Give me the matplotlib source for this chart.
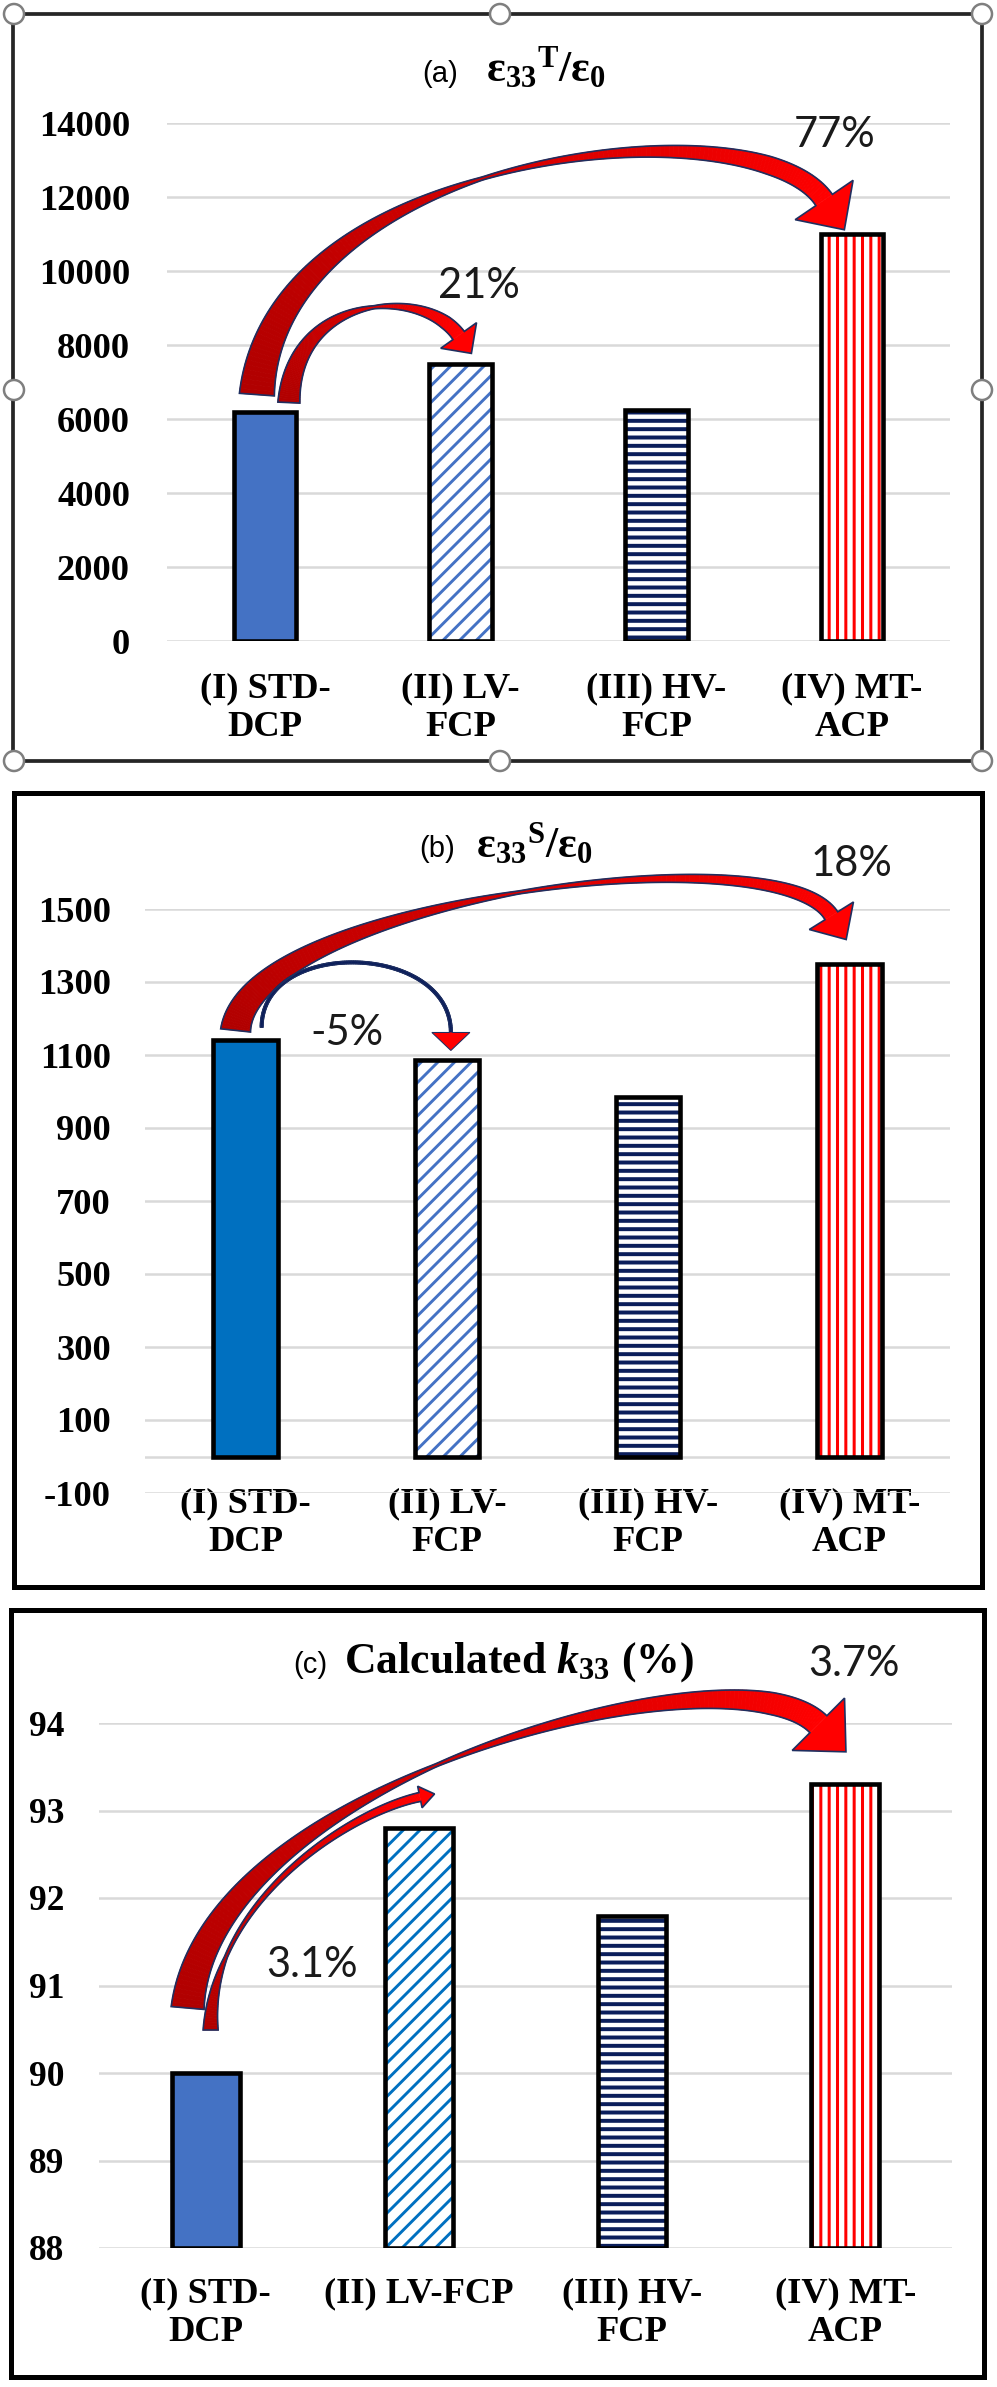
import numpy as np
import matplotlib
matplotlib.use("Agg")
import matplotlib.pyplot as plt
from matplotlib.patches import Polygon, Rectangle, Ellipse
from matplotlib.collections import PolyCollection
from matplotlib.colors import to_rgb

# ---- data ----
labels_ab = ['(I) STD-\nDCP', '(II) LV-\nFCP', '(III) HV-\nFCP', '(IV) MT-\nACP']
labels_c = ['(I) STD-\nDCP', '(II) LV-FCP', '(III) HV-\nFCP', '(IV) MT-\nACP']
eps_T = [6200, 7500, 6250, 11000]      # (a) eps33T/eps0
eps_S = [1140, 1085, 985, 1350]        # (b) eps33S/eps0
k33 = [90.0, 92.8, 91.8, 93.3]         # (c) calculated k33 (%)
ticks_a = list(range(0, 14001, 2000))
ticks_b = list(range(-100, 1501, 200))
ticks_c = [88, 89, 90, 91, 92, 93, 94]
pct_a = ['21%', '77%']
pct_b = ['-5%', '18%']
pct_c = ['3.1%', '3.7%']

BLUE = '#4472C4'
BLUE2 = '#0070C0'
NAVY = '#0B1E5B'
RED = '#FF0000'

plt.rcParams.update({
    'font.family': 'Liberation Serif',
    'font.weight': 'bold',
    'mathtext.fontset': 'custom',
    'mathtext.rm': 'Liberation Serif:bold',
    'mathtext.it': 'Liberation Serif:italic:bold',
    'mathtext.bf': 'Liberation Serif:bold',
    'mathtext.default': 'rm',
    'hatch.linewidth': 1.5,
})

W, H, DPI = 997, 2387, 150
fig = plt.figure(figsize=(W / DPI, H / DPI), dpi=DPI)
fig.patch.set_facecolor('white')


def fx(x):
    return x / W


def fy(y):
    return 1 - y / H


def pt(px):
    return px * 72 / DPI


def panel_axes(left, right, top, bottom, ylim, ticks, labels, ypad, xpad, ysize):
    ax = fig.add_axes([fx(left), fy(bottom), (right - left) / W, (bottom - top) / H])
    ax.set_xlim(-0.5, 3.5)
    ax.set_ylim(*ylim)
    ax.set_yticks(ticks)
    ax.set_yticklabels([str(t) for t in ticks], fontsize=ysize, fontweight='bold')
    ax.set_xticks(range(len(labels)))
    ax.set_xticklabels(labels, fontsize=17.5, fontweight='bold', linespacing=1.25)
    ax.tick_params(axis='y', length=0, pad=pt(ypad))
    ax.tick_params(axis='x', length=0, pad=pt(xpad))
    ax.grid(axis='y', color='#D9D9D9', lw=1.2)
    ax.set_axisbelow(True)
    for s in ax.spines.values():
        s.set_visible(False)
    ax.patch.set_alpha(0)
    return ax


def draw_bars(ax, values, base, solid, diag, width=0.32):
    x = np.arange(len(values))
    h = np.array(values, dtype=float) - base
    fills = [solid, 'white', 'white', 'white']
    hcols = [solid, diag, NAVY, RED]
    hatches = [None, '///', '---', '|||']
    hlw = [1.5, 1.4, 1.9, 1.45]
    for i in range(len(values)):
        plt.rcParams['hatch.linewidth'] = hlw[i]
        bars = ax.bar(x[i], h[i], width, bottom=base, color=fills[i],
                      edgecolor=hcols[i], hatch=hatches[i], lw=0, zorder=2)
        for b in bars:
            if hasattr(b, 'set_hatch_linewidth'):
                b.set_hatch_linewidth(hlw[i])
        ax.bar(x[i], h[i], width, bottom=base, fill=False,
               edgecolor='black', lw=2.2, zorder=3)
    plt.rcParams['hatch.linewidth'] = 1.5


def img_pt(ax, xy):
    d = ax.transData.transform(xy)
    return np.array([d[0], H - d[1]])


def to_fig(a):
    a = np.asarray(a)
    return np.column_stack([a[:, 0] / W, 1 - a[:, 1] / H])


def curved_arrow(ax, start, s_off, c1, end, e_off, c2, wprof, head_len, head_w,
                 col0='#B00000', col1=RED, head_col=None, edge='#1F2F60', elw=0.8):
    P0 = img_pt(ax, start) + np.array(s_off)
    P3 = img_pt(ax, end) + np.array(e_off)
    P1 = P0 + np.array(c1)
    P2 = P3 + np.array(c2)
    t = np.linspace(0, 1, 160)[:, None]
    pts = (1 - t) ** 3 * P0 + 3 * (1 - t) ** 2 * t * P1 + 3 * (1 - t) * t ** 2 * P2 + t ** 3 * P3
    der = 3 * (1 - t) ** 2 * (P1 - P0) + 6 * (1 - t) * t * (P2 - P1) + 3 * t ** 2 * (P3 - P2)
    T = der / np.linalg.norm(der, axis=1)[:, None]
    N = np.column_stack([-T[:, 1], T[:, 0]])
    w = np.interp(t[:, 0], wprof[0], wprof[1])[:, None]
    left = pts + N * w / 2
    right = pts - N * w / 2
    tip = P3 + T[-1] * head_len
    bl = P3 + N[-1] * head_w / 2
    br = P3 - N[-1] * head_w / 2
    c0, c1_ = np.array(to_rgb(col0)), np.array(to_rgb(col1))
    quads, cols = [], []
    for i in range(len(pts) - 1):
        q = np.array([left[i], left[i + 1], right[i + 1], right[i]])
        quads.append(to_fig(q))
        f = i / (len(pts) - 2)
        cols.append(tuple(c0 * (1 - f) + c1_ * f))
    fig.add_artist(PolyCollection(quads, facecolors=cols, edgecolors=cols,
                                  linewidths=0.4, transform=fig.transFigure, zorder=5))
    head = to_fig(np.array([bl, tip, br]))
    fig.add_artist(Polygon(head, closed=True, facecolor=head_col or col1, edgecolor='none',
                           transform=fig.transFigure, zorder=5))
    outline = np.vstack([left, bl, tip, br, right[::-1]])
    fig.add_artist(Polygon(to_fig(outline), closed=True, fill=False, edgecolor=edge,
                           lw=elw, joinstyle='miter', transform=fig.transFigure, zorder=6))


def pct_label(ax, text, xy, off):
    ax.annotate(text, xy=xy, xytext=(pt(off[0]), -pt(off[1])), textcoords='offset points',
                ha='center', va='center', fontsize=20, family='Lato', fontweight='normal',
                color='#1a1a1a', annotation_clip=False, zorder=7)


# ---- panel (a) ----
ax_a = panel_axes(167, 950, 123, 641, (0, 14000), ticks_a, labels_ab, 37, 31, 17.5)
draw_bars(ax_a, eps_T, 0, BLUE, BLUE)

# ---- panel (b) ----
ax_b = panel_axes(145, 950, 909, 1493, (-100, 1500), ticks_b, labels_ab, 34, -6, 17.5)
ax_b.axhline(0, color='#D9D9D9', lw=1.2, zorder=1)
draw_bars(ax_b, eps_S, 0, BLUE2, BLUE)

# ---- panel (c) ----
ax_c = panel_axes(99, 952, 1723, 2248, (88, 94), ticks_c, labels_c, 35, 29, 17)
draw_bars(ax_c, k33, 88, BLUE, BLUE2)

# ---- curved arrows ----
curved_arrow(ax_a, (0, eps_T[0]), (-8, -17), (18, -245), (3, eps_T[3]), (-28, -34), (-68, -100),
             ([0, 0.45, 0.85, 1], [35, 3, 18, 20]), 36, 70)
curved_arrow(ax_a, (0, eps_T[0]), (24, -9), (5, -110), (1, eps_T[1]), (-2, -28), (-35, -49),
             ([0, 0.55, 0.9, 1], [22, 3, 13, 14]), 22, 44)
curved_arrow(ax_b, (0, eps_S[0]), (-10, -10), (14, -130), (3, eps_S[3]), (-18, -48), (-53, -85),
             ([0, 0.5, 0.9, 1], [30, 3, 13, 15]), 28, 52)
curved_arrow(ax_b, (0, eps_S[0]), (16, -13), (0, -90), (1, eps_S[1]), (4, -28), (0, -90),
             ([0, 1], [3, 3]), 18, 38, col0=NAVY, col1=NAVY, head_col=RED, elw=0.5)
curved_arrow(ax_c, (0, k33[0]), (-18, -65), (20, -230), (3, k33[3]), (-27, -60), (-84, -84),
             ([0, 0.45, 0.88, 1], [33, 3, 22, 24]), 39, 74)
curved_arrow(ax_c, (0, k33[0]), (5, -43), (0, -130), (1, k33[1]), (1, -31), (-68, 14),
             ([0, 0.2, 0.85, 1], [15, 3, 8, 9]), 15, 22)

# ---- percentage labels ----
pct_label(ax_a, pct_a[0], (1, eps_T[1]), (18, -77))
pct_label(ax_a, pct_a[1], (3, eps_T[3]), (-17, -99))
pct_label(ax_b, pct_b[0], (1, eps_S[1]), (-100, -27))
pct_label(ax_b, pct_b[1], (3, eps_S[3]), (2, -100))
pct_label(ax_c, pct_c[0], (1, k33[1]), (-107, 137))
pct_label(ax_c, pct_c[1], (3, k33[3]), (9, -120))

# ---- panel titles ----
sans = ['Liberation Sans Narrow', 'Liberation Sans']
fig.text(fx(458), fy(82), '(a)', family=sans, fontweight='normal', size=14, ha='right', va='baseline')
fig.text(fx(486), fy(81), r'$ε_{33}{}^{T}/ε_{0}$', size=21, ha='left', va='baseline')
fig.text(fx(455), fy(857), '(b)', family=sans, fontweight='normal', size=14, ha='right', va='baseline')
fig.text(fx(476), fy(857), r'$ε_{33}{}^{S}/ε_{0}$', size=21, ha='left', va='baseline')
fig.text(fx(327), fy(1673), '(c)', family=sans, fontweight='normal', size=14, ha='right', va='baseline')
fig.text(fx(344), fy(1673), r'Calculated $\mathit{k}_{33}$ (%)', size=21, fontweight='bold',
         ha='left', va='baseline')

# ---- chart frames ----
fig.add_artist(Rectangle((fx(13), fy(761)), (982 - 13) / W, (761 - 14) / H, fill=False,
                         ec='#262626', lw=1.8, transform=fig.transFigure, zorder=8))
for hx in (14, 500, 982):
    for hy in (14, 390, 761):
        if hx == 500 and hy == 390:
            continue
        fig.add_artist(Ellipse((fx(hx), fy(hy)), 20 / W, 20 / H, facecolor='white',
                               edgecolor='#7F7F7F', lw=1.2, transform=fig.transFigure, zorder=9))
fig.add_artist(Rectangle((fx(14), fy(1587)), (982 - 14) / W, (1587 - 793) / H, fill=False,
                         ec='black', lw=2.4, transform=fig.transFigure, zorder=8))
fig.add_artist(Rectangle((fx(11), fy(2377)), (984 - 11) / W, (2377 - 1610) / H, fill=False,
                         ec='black', lw=2.4, transform=fig.transFigure, zorder=8))

fig.savefig('out.png', dpi=DPI)
